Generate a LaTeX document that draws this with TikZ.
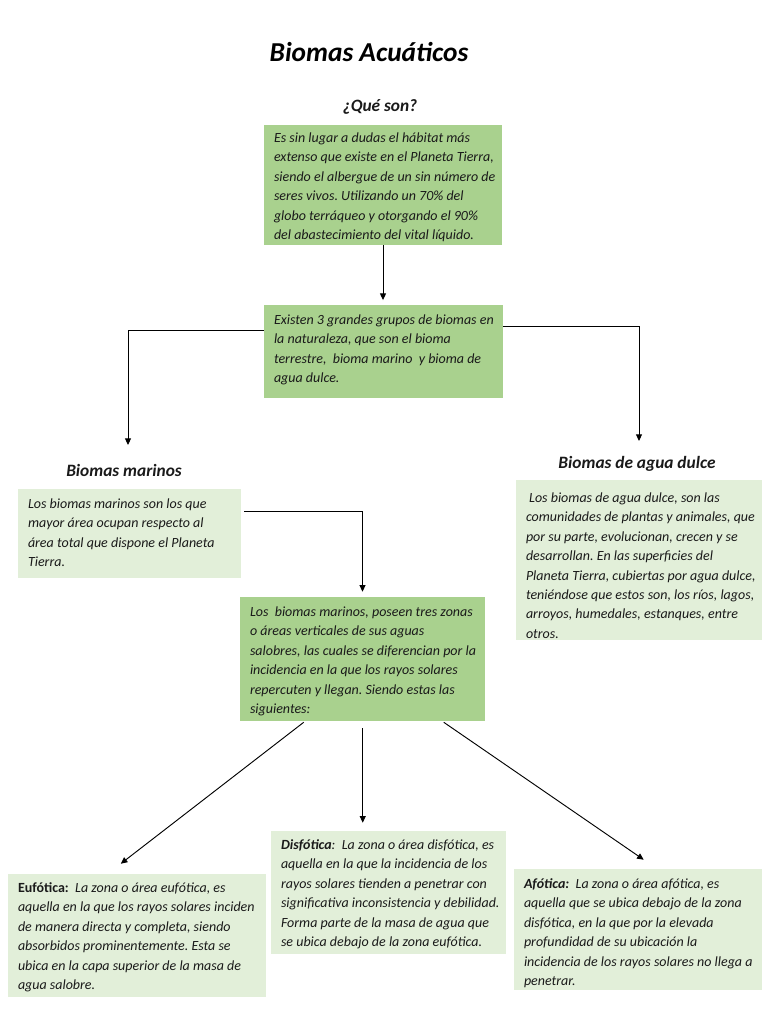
\documentclass[tikz,border=0pt]{standalone}
\usepackage{fontspec}
\setmainfont{Carlito}
\usetikzlibrary{arrows.meta,calc}
\definecolor{gmid}{HTML}{A9D18E}
\definecolor{glight}{HTML}{E2EFD9}
\definecolor{ink}{HTML}{1A1A1A}
\frenchspacing
\newcommand\bxt[4]{\begin{minipage}[c][#2][t]{#1}\raggedright\leftskip=7.5pt\hbadness=10000\hfuzz=20pt\fontsize{10.5}{14.55}\selectfont\itshape\rule{0pt}{#3}#4\end{minipage}}
\tikzset{
  gbox/.style={rectangle, fill=gmid, inner sep=0pt, text=ink},
  lbox/.style={rectangle, fill=glight, inner sep=0pt, text=ink},
  head/.style={anchor=base, inner sep=0pt, text=ink, font=\fontsize{13}{15}\selectfont\bfseries\itshape},
  arr/.style={draw=black, line width=0.7pt, -{Triangle[length=5pt,width=4.5pt]}},
}
\begin{document}
\begin{tikzpicture}[x=0.75pt,y=-0.75pt]
\useasboundingbox[fill=white] (0,0) rectangle (768,1024);

\node[anchor=base, inner sep=0pt, text=black, font=\fontsize{20.5}{24}\selectfont\bfseries\itshape] (title) at (369,62) {Biomas Acuáticos};
\node[head] (que) at (380,112) {¿Qué son?};

\node[gbox] (b1) at (383,185) {\bxt{178.5pt}{90pt}{13.1pt}{Es sin lugar a dudas el hábitat más\\
extenso que existe en el Planeta Tierra,\\
siendo el albergue de un sin número de\\
seres vivos. Utilizando un 70\% del\\
globo terráqueo y otorgando el 90\%\\
del abastecimiento del vital líquido.}};

\node[gbox] (b2) at (383.5,351.5) {\bxt{179.25pt}{69.75pt}{14.6pt}{Existen 3 grandes grupos de biomas en\\
la naturaleza, que son el bioma\\
terrestre,\ \ bioma marino\ \ y bioma de\\
agua dulce.}};

\node[head] (hm) at (124,476) {Biomas marinos};
\node[head] (hd) at (637,468) {Biomas de agua dulce};

\node[lbox] (lb) at (129.5,533.5) {\bxt{167.25pt}{66.75pt}{14.6pt}{Los biomas marinos son los que\\
mayor área ocupan respecto al\\
área total que dispone el Planeta\\
Tierra.}};

\node[lbox] (rb) at (639,560) {\bxt{184.5pt}{120pt}{16.8pt}{\ Los biomas de agua dulce, son las\\
comunidades de plantas y animales, que\\
por su parte, evolucionan, crecen y se\\
desarrollan. En las superficies del\\
Planeta Tierra, cubiertas por agua dulce,\\
teniéndose que estos son, los ríos, lagos,\\
arroyos, humedales, estanques, entre\\
otros.}};

\node[gbox] (mb) at (362.5,659) {\bxt{183.75pt}{93pt}{14.6pt}{Los\ \ biomas marinos, poseen tres zonas\\
o áreas verticales de sus aguas\\
salobres, las cuales se diferencian por la\\
incidencia en la que los rayos solares\\
repercuten y llegan. Siendo estas las\\
siguientes:}};

\node[lbox] (eu) at (137,935.5) {\bxt{193.5pt}{92.25pt}{13.9pt}{{\upshape\bfseries Eufótica:}\ \ La zona o área eufótica, es\\
aquella en la que los rayos solares inciden\\
de manera directa y completa, siendo\\
absorbidos prominentemente. Esta se\\
ubica en la capa superior de la masa de\\
agua salobre.}};

\node[lbox] (di) at (388.5,892.5) {\bxt{176.25pt}{92.25pt}{13.9pt}{{\bfseries Disfótica}:\ \ La zona o área disfótica, es\\
aquella en la que la incidencia de los\\
rayos solares tienden a penetrar con\\
significativa inconsistencia y debilidad.\\
Forma parte de la masa de agua que\\
se ubica debajo de la zona eufótica.}};

\node[lbox] (af) at (638,929.5) {\bxt{186pt}{90.75pt}{14.6pt}{{\bfseries Afótica:}\ \ La zona o área afótica, es\\
aquella que se ubica debajo de la zona\\
disfótica, en la que por la elevada\\
profundidad de su ubicación la\\
incidencia de los rayos solares no llega a\\
penetrar.}};

\coordinate (tL) at (128,445);
\coordinate (tR) at (639,441);

\draw[arr, shorten >=3.5pt] (b1.south) -- (b1.south |- b2.north);
\draw[arr] ($(b2.north west)+(0,26)$) -| (tL);
\draw[arr] ($(b2.north east)+(0,22)$) -| (tR);
\draw[arr, shorten >=3.75pt] ($(lb.north east)+(3,23)$) -| (mb.north);
\draw[arr] ($(mb.south west)+(64,1)$) -- ($(eu.north west)+(113,-10)$);
\draw[arr] ($(mb.south west)+(123,7)$) -- ($(di.north west)+(92,-8)$);
\draw[arr] ($(mb.south west)+(204,1)$) -- ($(af.north west)+(130,-9)$);
\end{tikzpicture}
\end{document}
